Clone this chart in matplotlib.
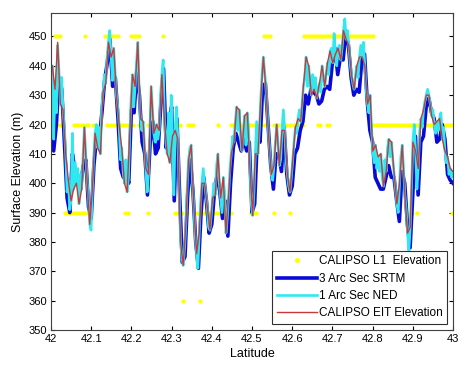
import numpy as np
import matplotlib
matplotlib.use('Agg')
import matplotlib.pyplot as plt

plt.rcParams['font.family'] = ['Liberation Sans', 'DejaVu Sans']

# 1 Arc Sec NED profile (302 samples, 42.0 -> 43.0)
ned = [428, 440, 415, 432, 424, 447, 438, 427, 436, 425,
       419, 410, 397, 401, 391, 394, 417, 398, 407, 400,
       405, 393, 403, 398, 409, 419, 410, 401, 395, 386,
       384, 398, 409, 417, 420, 412, 419, 410, 426, 431,
       437, 434, 443, 448, 452, 443, 435, 446, 438, 430,
       426, 420, 408, 412, 404, 400, 408, 397, 402, 417,
       429, 437, 426, 433, 441, 448, 432, 422, 418, 421,
       413, 405, 397,
       403, 418, 433, 425, 417, 414, 420, 415, 418, 430,
       437, 442, 421, 415, 410, 424, 407, 430, 416, 396,
       418, 426, 415, 398, 380, 375, 372, 378, 386, 399,
       408, 412, 413, 400, 392, 382, 376, 371, 383, 393,
       400, 405, 400, 396, 392, 385, 384, 389, 395, 400,
       396, 406, 410, 400, 395, 390, 402, 397, 383, 388,
       396, 405, 410, 416, 414, 421, 426, 418, 425, 415,
       411, 418, 423, 413, 424,
       418, 405, 393, 389, 397, 410, 421, 410, 418, 428,
       437, 443, 438, 432, 424, 416, 410, 403, 401, 406,
       414, 420, 414, 406, 408, 418, 425, 418, 408, 403,
       399, 397, 402, 408, 414, 419, 417, 422, 425, 421,
       427, 433, 436, 443, 433, 440, 434, 430, 437, 432,
       436, 429, 432, 434, 431, 440, 436, 433, 437, 441,
       437, 445, 446, 441, 451, 444, 440, 446, 447, 442,
       446, 452, 456, 449, 452,
       447, 441, 437, 434, 432, 437, 440, 436, 443, 447,
       443, 448, 440, 432, 427, 424, 430, 419, 411, 407,
       413, 405, 409, 404, 410, 402, 399, 408, 404, 412,
       415, 409, 414, 408, 403, 398, 393, 390, 400, 409,
       413, 405, 396, 391, 383, 377, 385, 400, 414, 420,
       411, 398, 405, 417, 422, 419, 425, 428, 430, 432,
       430, 427, 423, 425, 420, 417, 421, 418, 422, 424,
       415, 419, 411, 407, 409, 403, 405, 402, 404]

# 3 Arc Sec SRTM (coarser, 151 samples)
srtm = [426, 411, 420, 436, 432, 414, 395, 390, 410, 404, 402, 398, 406, 408, 392, 388, 406, 416, 415,
        424, 435, 441, 449, 433, 436, 422, 405, 402, 404, 400, 425, 424, 438, 430, 414, 410, 396,
        414, 421, 410, 412, 427, 439, 412, 420, 426, 394, 422, 396, 373, 375, 396, 408, 397, 380, 371,
        390, 402, 394, 383, 386, 397, 403, 397, 388, 394, 382, 400, 412, 417, 414, 411, 415, 411,
        414, 390, 393, 416, 414, 433, 434, 420, 406, 398, 410, 410, 404, 419, 403, 396, 399, 410, 412,
        418, 421, 430, 427, 432, 431, 430, 427, 428, 432, 433, 432, 441, 446, 437, 443, 442, 451, 447,
        436, 430, 432, 431, 442, 444, 428, 418, 414, 402, 400, 398, 398, 402, 406, 402, 402, 394, 387,
        404, 400, 386, 378, 396, 416, 396, 414, 416, 426, 429, 424, 422, 414, 415, 420, 415, 403, 401, 400]

# CALIPSO EIT elevation (151 samples, offset grid)
eit = [440, 432, 448, 427, 425, 410, 401, 394, 398, 400, 393, 398, 419, 401, 386, 398, 417, 412,
       410, 431, 434, 448, 443, 446, 430, 420, 412, 400, 397, 417, 437, 433, 448, 422, 421, 405,
       403, 433, 417, 420, 418, 437, 421, 410, 407, 416, 418, 415, 380, 372, 386, 408, 413, 392, 376,
       383, 400, 400, 392, 384, 395, 396, 410, 395, 402, 383, 396, 410, 414, 426, 425, 411, 423, 424,
       405, 389, 410, 410, 428, 443, 432, 416, 403, 406, 420, 406, 418, 418, 403, 397, 408, 419, 422,
       421, 433, 443, 440, 430, 432, 429, 434, 440, 433, 441, 445, 441, 444, 446, 442, 452, 449,
       447, 437, 432, 440, 443, 443, 440, 427, 430, 411, 413, 409, 410, 399, 404, 415, 414, 403, 393,
       400, 413, 396, 383, 385, 414, 411, 405, 422, 425, 430, 430, 423, 420, 421, 422, 415, 411, 409,
       405, 404]

# CALIPSO L1 returns, grouped by quantised elevation
l1_lat_450 = [42.010, 42.014, 42.018, 42.022, 42.085, 42.134, 42.139, 42.145, 42.150, 42.155,
              42.160, 42.166, 42.198, 42.203, 42.208, 42.213, 42.218, 42.279, 42.530, 42.535,
              42.540, 42.545, 42.630, 42.635, 42.640, 42.645, 42.650, 42.655, 42.660, 42.665,
              42.670, 42.675, 42.680, 42.685, 42.690, 42.695, 42.700, 42.705, 42.710, 42.715,
              42.720, 42.725, 42.730, 42.735, 42.740, 42.745, 42.750, 42.755, 42.760, 42.765,
              42.770, 42.775, 42.780, 42.785, 42.790, 42.795, 42.800]
l1_lat_420 = [42.000, 42.004, 42.010, 42.016, 42.022, 42.028, 42.056, 42.062, 42.068, 42.074,
              42.080, 42.086, 42.092, 42.105, 42.140, 42.146, 42.152, 42.158, 42.164, 42.170,
              42.176, 42.182, 42.188, 42.204, 42.220, 42.241, 42.248, 42.308, 42.314, 42.320,
              42.341, 42.347, 42.353, 42.415, 42.448, 42.453, 42.460, 42.466, 42.472, 42.478,
              42.485, 42.492, 42.498, 42.505, 42.512, 42.520, 42.530, 42.540, 42.555, 42.565,
              42.575, 42.585, 42.595, 42.605, 42.612, 42.620, 42.627, 42.664, 42.670, 42.686,
              42.692, 42.795, 42.800, 42.805, 42.810, 42.815, 42.820, 42.825, 42.830, 42.835,
              42.840, 42.845, 42.850, 42.855, 42.860, 42.865, 42.870, 42.875, 42.880, 42.885,
              42.890, 42.895, 42.900, 42.905, 42.910, 42.915, 42.920, 42.925, 42.930, 42.935,
              42.940, 42.945, 42.950, 42.955, 42.960, 42.965, 42.970, 42.975, 42.980, 42.985,
              42.990, 42.995]
l1_lat_390 = [42.035, 42.040, 42.046, 42.052, 42.058, 42.064, 42.070, 42.076, 42.082, 42.092,
              42.185, 42.191, 42.242, 42.308, 42.314, 42.320, 42.326, 42.338, 42.363, 42.369,
              42.375, 42.381, 42.387, 42.393, 42.399, 42.405, 42.411, 42.417, 42.423, 42.429,
              42.435, 42.441, 42.447, 42.497, 42.503, 42.510, 42.555, 42.595, 42.866, 42.893,
              42.899, 42.910, 42.998]
l1_lat_360 = [42.329, 42.371]

lat_ned = np.linspace(42.0, 43.0, len(ned))
lat_srtm = np.linspace(42.0, 43.0, len(srtm))
lat_eit = np.linspace(42.0 + 1.0 / 301, 43.0, len(eit))

l1_lat = l1_lat_450 + l1_lat_420 + l1_lat_390 + l1_lat_360
l1_elev = ([450] * len(l1_lat_450) + [420] * len(l1_lat_420)
           + [390] * len(l1_lat_390) + [360] * len(l1_lat_360))

fig = plt.figure(figsize=(4.74, 3.71), dpi=100)
ax = fig.add_axes([0.1076, 0.1105, 0.848, 0.8545])

ax.plot(l1_lat, l1_elev, 'o', color='#ffff00', ms=3, mec='none', label='CALIPSO L1  Elevation')
ax.plot(lat_srtm, srtm, '-', color='#0a0ad8', lw=2.6, label='3 Arc Sec SRTM')
ax.plot(lat_ned, ned, '-', color='#30e8f0', lw=1.9, label='1 Arc Sec NED')
ax.plot(lat_eit, eit, '-', color='#c83a3a', lw=1.0, label='CALIPSO EIT Elevation')

ax.set_xlim(42, 43)
ax.set_ylim(350, 458)
ax.set_xticks(np.arange(42, 43.01, 0.1))
ax.set_xticklabels(['42', '42.1', '42.2', '42.3', '42.4', '42.5', '42.6', '42.7', '42.8', '42.9', '43'])
ax.set_yticks(np.arange(350, 451, 10))
ax.tick_params(direction='in', top=True, right=True, labelsize=8, length=3, pad=3)
for s in ax.spines.values():
    s.set_color('#404040')
    s.set_linewidth(0.8)

ax.set_xlabel('Latitude', fontsize=9, labelpad=3)
ax.set_ylabel('Surface Elevation (m)', fontsize=9, labelpad=3)

leg = ax.legend(loc='lower right', fontsize=8.5, fancybox=False, framealpha=1,
                edgecolor='#303030', borderaxespad=0.5, handlelength=3.4,
                labelspacing=0.45, borderpad=0.4, handletextpad=0.15, markerscale=1.2)
leg.get_frame().set_linewidth(0.8)

fig.savefig('out.png', dpi=100)
